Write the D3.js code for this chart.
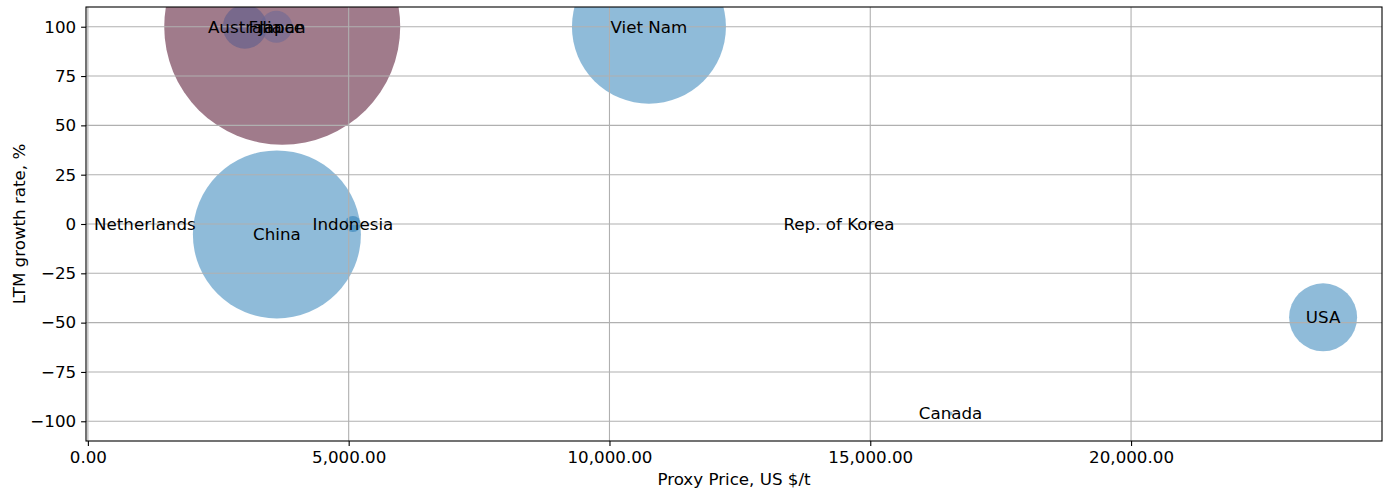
<!DOCTYPE html>
<html>
<head>
<meta charset="utf-8">
<script src="https://cdn.jsdelivr.net/npm/d3@7"></script>
<style>
  html, body { margin: 0; padding: 0; background: #fff; }
  svg { display: block; font-family: "DejaVu Sans", sans-serif; }
</style>
</head>
<body>
<svg id="chart" width="1389" height="489"></svg>
<script>
// Country bubbles: proxy price vs LTM growth, bubble area ~ volume
const countries = ["Japan", "Netherlands", "Australia", "France", "China", "Indonesia",
                   "Viet Nam", "Rep. of Korea", "Canada", "USA"];
const proxyPrice = [3726, 1093, 3010, 3613, 3624, 5081, 10757, 14401, 16539, 23682];
const growthRate = [100, 0, 100, 100, -5.3, 0, 100, 0, -96, -47.3];
const volume     = [13924, 0, 484, 256, 7056, 64, 5929, 0, 4, 1156];

const xTicks = [0, 5000, 10000, 15000, 20000];
const yTicks = [-100, -75, -50, -25, 0, 25, 50, 75, 100];

const xLabel = "Proxy Price, US $/t";
const yLabel = "LTM growth rate, %";

// fill style per bubble
const fillStyle = {
  "Japan":     { fill: "#a07b8b", opacity: 1 },
  "Australia": { fill: "#50578d", opacity: 0.5 },
  "France":    { fill: "#646597", opacity: 0.5 }
};
const defaultFill = { fill: "#1f77b4", opacity: 0.5 };

const W = 1389, H = 489;
const plot = { left: 86, right: 1382, top: 7, bottom: 441 };
const fontSize = 16.7;

const svg = d3.select("#chart");

const x = d3.scaleLinear().domain([-36, 24811]).range([plot.left, plot.right]);
const y = d3.scaleLinear().domain([-110, 110]).range([plot.bottom, plot.top]);
const r = d3.scaleSqrt().domain([0, d3.max(volume)]).range([0, 118]);

const data = countries.map((c, i) => ({
  name: c, price: proxyPrice[i], growth: growthRate[i], vol: volume[i]
}));

svg.append("defs").append("clipPath").attr("id", "plotClip")
  .append("rect")
  .attr("x", plot.left).attr("y", plot.top)
  .attr("width", plot.right - plot.left).attr("height", plot.bottom - plot.top);

// bubbles
svg.append("g").attr("clip-path", "url(#plotClip)")
  .selectAll("circle")
  .data(data.filter(d => d.vol > 0))
  .join("circle")
  .attr("cx", d => x(d.price))
  .attr("cy", d => y(d.growth))
  .attr("r", d => r(d.vol))
  .attr("fill", d => (fillStyle[d.name] || defaultFill).fill)
  .attr("fill-opacity", d => (fillStyle[d.name] || defaultFill).opacity);

// grid lines above bubbles
const grid = svg.append("g").attr("stroke", "#b0b0b0").attr("stroke-width", 1.1);
grid.selectAll("line.gx").data(xTicks).join("line")
  .attr("x1", d => x(d)).attr("x2", d => x(d))
  .attr("y1", plot.top).attr("y2", plot.bottom);
grid.selectAll("line.gy").data(yTicks).join("line")
  .attr("x1", plot.left).attr("x2", plot.right)
  .attr("y1", d => y(d)).attr("y2", d => y(d));

// axes
const fmtX = d3.format(",.2f");
const fmtY = d => d < 0 ? "\u2212" + Math.abs(d) : String(d);

const xAxis = svg.append("g")
  .attr("transform", `translate(0,${plot.bottom})`)
  .call(d3.axisBottom(x).tickValues(xTicks).tickFormat(fmtX).tickSize(4.9).tickPadding(4.9));
const yAxis = svg.append("g")
  .attr("transform", `translate(${plot.left},0)`)
  .call(d3.axisLeft(y).tickValues(yTicks).tickFormat(fmtY).tickSize(4.9).tickPadding(4.9));

[xAxis, yAxis].forEach(a => {
  a.select(".domain").remove();
  a.selectAll(".tick line").attr("stroke", "#000").attr("stroke-width", 1.1);
  a.selectAll(".tick text").attr("fill", "#000")
    .style("font-family", "'DejaVu Sans', sans-serif").style("font-size", fontSize + "px");
});

// frame
svg.append("rect")
  .attr("x", plot.left).attr("y", plot.top)
  .attr("width", plot.right - plot.left).attr("height", plot.bottom - plot.top)
  .attr("fill", "none").attr("stroke", "#000").attr("stroke-width", 1.1);

// country labels
svg.append("g")
  .selectAll("text")
  .data(data)
  .join("text")
  .attr("x", d => x(d.price))
  .attr("y", d => y(d.growth))
  .attr("text-anchor", "middle")
  .attr("dominant-baseline", "central")
  .attr("font-size", fontSize)
  .attr("fill", "#000")
  .text(d => d.name);

// axis titles
svg.append("text")
  .attr("x", (plot.left + plot.right) / 2)
  .attr("y", 479)
  .attr("text-anchor", "middle")
  .attr("dominant-baseline", "central")
  .attr("font-size", fontSize)
  .text(xLabel);

svg.append("text")
  .attr("transform", `translate(19,${(plot.top + plot.bottom) / 2}) rotate(-90)`)
  .attr("text-anchor", "middle")
  .attr("dominant-baseline", "central")
  .attr("font-size", fontSize)
  .text(yLabel);
</script>
</body>
</html>
